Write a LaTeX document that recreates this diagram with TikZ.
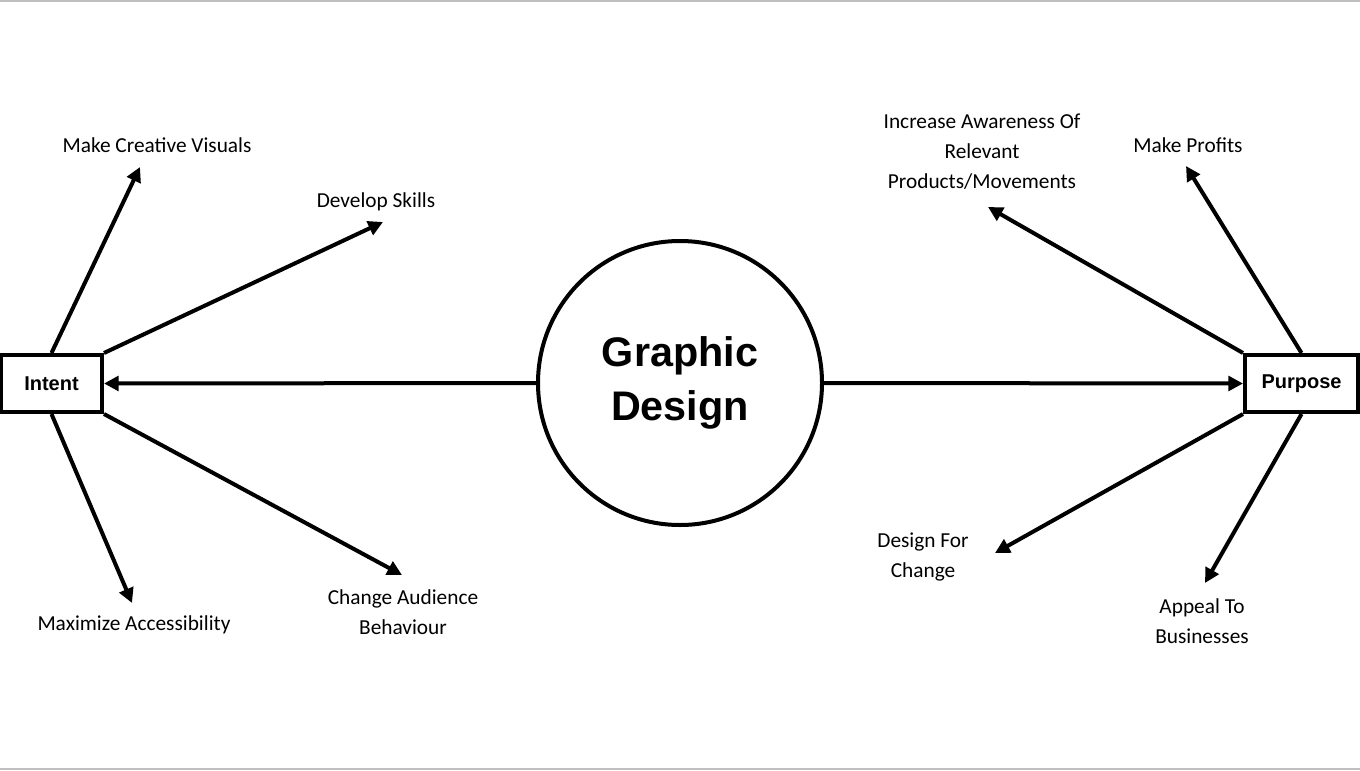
\documentclass[tikz,border=0pt]{standalone}
\usepackage{fontspec}
\setmainfont{Carlito}
\newfontfamily\arialb{Liberation Sans}
\usetikzlibrary{arrows.meta}
\begin{document}
\begin{tikzpicture}[x=0.75pt,y=-0.75pt,
  lab/.style={font=\fontsize{16}{22.5}\selectfont,align=center},
  box/.style={draw,line width=3pt,font=\arialb\bfseries\fontsize{15}{18}\selectfont,inner sep=0pt},
  arr/.style={line width=3pt,-{Triangle[length=11pt,width=11pt]}}]
\useasboundingbox (0,0) rectangle (1360,771);
\fill[white] (0,0) rectangle (1360,771);
\draw[gray!50,line width=1pt] (0,1) -- (1360,1);
\draw[gray!50,line width=1.5pt] (0,769) -- (1360,769);
\node[draw,circle,line width=3pt,minimum size=284*0.75pt,font=\arialb\bfseries\fontsize{31}{40}\selectfont,align=center] (gd) at (680,383) {Graphic\\Design};
\node[box,minimum width=101*0.75pt,minimum height=57*0.75pt] (in) at (51.5,383.5) {Intent};
\node[box,minimum width=113*0.75pt,minimum height=57*0.75pt] (pu) at (1301.5,383.5) {Purpose};
\draw[arr] (gd.west) -- (in.east);
\draw[arr] (gd.east) -- (pu.west);
\node[lab] (l1) at (157,145) {Make Creative Visuals};
\node[lab] (l2) at (376,202) {Develop Skills};
\node[lab] (l3) at (134,625) {Maximize Accessibility};
\node[lab] (l4) at (403,612) {Change Audience\\Behaviour};
\node[lab] (r1) at (982,152) {Increase Awareness Of\\Relevant\\Products/Movements};
\node[lab] (r2) at (1188,145) {Make Profits};
\node[lab] (r3) at (923,557) {Design For\\Change};
\node[lab] (r4) at (1202,621) {Appeal To\\Businesses};
\coordinate (a1) at (140,167); \coordinate (a2) at (383,222);
\coordinate (a3) at (132,603); \coordinate (a4) at (402,575);
\coordinate (b1) at (988,207); \coordinate (b2) at (1186,166);
\coordinate (b3) at (995,553); \coordinate (b4) at (1205,583);
\draw[arr] (in.north) -- (a1);
\draw[arr] (in.north east) -- (a2);
\draw[arr] (in.south) -- (a3);
\draw[arr] (in.south east) -- (a4);
\draw[arr] (pu.north west) -- (b1);
\draw[arr] (pu.north) -- (b2);
\draw[arr] (pu.south west) -- (b3);
\draw[arr] (pu.south) -- (b4);
\end{tikzpicture}
\end{document}
